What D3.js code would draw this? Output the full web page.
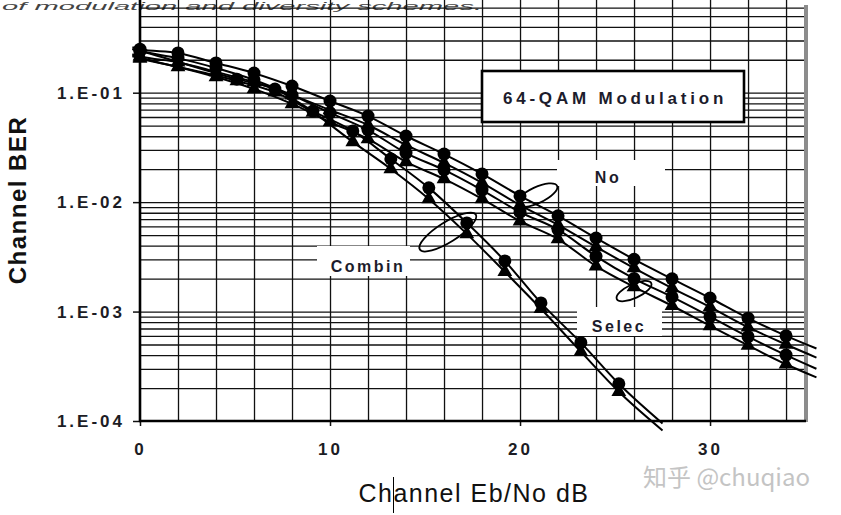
<!DOCTYPE html>
<html>
<head>
<meta charset="utf-8">
<script src="https://cdn.jsdelivr.net/npm/d3@7"></script>
<style>
  body { margin: 0; background: #fff; }
  svg { display: block; font-family: "Liberation Sans", Arial, sans-serif; }
</style>
</head>
<body>
<svg id="chart" width="841" height="515"></svg>
<script>
// Eb/No points (dB) for the "No" and "Selec" curves
const ebno = [0, 2, 4, 6, 8, 10, 12, 14, 16, 18, 20, 22, 24, 26, 28, 30, 32, 34];
const noCircle    = [0.25, 0.231, 0.187, 0.151, 0.115, 0.084, 0.0612, 0.0402, 0.0275, 0.0181, 0.0114, 0.0075, 0.0047, 0.0030, 0.00199, 0.00133, 0.00087, 0.00060];
const noTriangle  = [0.215, 0.190, 0.155, 0.125, 0.095, 0.0695, 0.0507, 0.0333, 0.0228, 0.0150, 0.0094, 0.0062, 0.0039, 0.0025, 0.00164, 0.00110, 0.00072, 0.00050];
const selCircle   = [0.24, 0.207, 0.168, 0.131, 0.095, 0.0653, 0.0456, 0.0281, 0.0197, 0.0129, 0.0081, 0.0056, 0.0032, 0.0020, 0.00136, 0.00090, 0.00059, 0.00040];
const selTriangle = [0.205, 0.172, 0.139, 0.108, 0.079, 0.054, 0.0378, 0.0233, 0.0163, 0.0107, 0.0067, 0.0046, 0.0026, 0.00168, 0.00113, 0.00074, 0.00049, 0.00033];

// "Combin" curves
const combEbno     = [0, 5.1, 7.1, 9.1, 11.2, 13.2, 15.2, 17.2, 19.2, 21.1, 23.2, 25.2];
const combCircle   = [0.24, 0.133, 0.108, 0.068, 0.0447, 0.0248, 0.0135, 0.00646, 0.00290, 0.00120, 0.00052, 0.000219];
const combTriangle = [0.21, 0.128, 0.101, 0.066, 0.0355, 0.0201, 0.0107, 0.00513, 0.00231, 0.00106, 0.00043, 0.000185];

// where the fitted lines start / stop beyond the markers: [BER at start, BER at end]
const lineStartX = -0.4;
const upperEndX = 35.6;
const combEndX = 27.5;
const noCircleEnds     = [0.26, 0.00046];
const noTriangleEnds   = [0.225, 0.00038];
const selCircleEnds    = [0.25, 0.00030];
const selTriangleEnds  = [0.215, 0.00025];
const combCircleEnds   = [0.25, 0.000095];
const combTriangleEnds = [0.22, 0.000082];

const xTickValues = [0, 10, 20, 30];
const yTickValues = [1e-1, 1e-2, 1e-3, 1e-4];
const yTickLabels = ['1.E-01', '1.E-02', '1.E-03', '1.E-04'];

const svg = d3.select('#chart');

const plotLeft = 140, plotRight = 806, plotBottom = 421, plotTop = 0;

const x = d3.scaleLinear().domain([0, 35.05]).range([plotLeft, plotRight]);
const y = d3.scaleLog().domain([1e-4, 1e-1]).range([plotBottom, 92.7]);

// caption line at the very top of the scan (mostly cut off in the source)
svg.append('text')
  .attr('x', 2)
  .attr('y', 10)
  .attr('font-size', 11)
  .attr('font-style', 'italic')
  .attr('textLength', 480)
  .attr('lengthAdjust', 'spacingAndGlyphs')
  .attr('fill', '#444')
  .text('of modulation and diversity schemes.');

// grid: verticals every 2 dB
svg.append('g')
  .attr('transform', `translate(0,${plotBottom})`)
  .call(d3.axisBottom(x).tickValues(d3.range(2, 35, 2)).tickSize(-(plotBottom - plotTop)).tickFormat(''))
  .call(g => g.select('.domain').remove())
  .call(g => g.selectAll('line').attr('stroke', '#111').attr('stroke-width', 1.3));

// grid: log horizontals (1..9 per decade)
const minor = [];
[1e-4, 1e-3, 1e-2, 1e-1].forEach(dec => {
  for (let m = 1; m <= 9; m++) {
    const v = dec * m;
    if (y(v) >= plotTop + 1 && v > 1e-4) minor.push(v);
  }
});
svg.append('g')
  .attr('transform', `translate(${plotLeft},0)`)
  .call(d3.axisLeft(y).tickValues(minor).tickSize(-(plotRight - plotLeft)).tickFormat(''))
  .call(g => g.select('.domain').remove())
  .call(g => g.selectAll('line').attr('stroke', '#111').attr('stroke-width', 1.3));

// white boxes behind the labels (they hide the grid)
const labelBoxes = [
  { x: 557, y: 160, w: 108, h: 26 },
  { x: 577, y: 307, w: 85, h: 29 },
  { x: 317, y: 246, w: 93, h: 30 }
];
svg.append('g').selectAll('rect')
  .data(labelBoxes)
  .enter()
  .append('rect')
  .attr('x', d => d.x)
  .attr('y', d => d.y)
  .attr('width', d => d.w)
  .attr('height', d => d.h)
  .attr('fill', '#fff');

// frame
svg.append('line')
  .attr('x1', plotRight).attr('x2', plotRight).attr('y1', 5).attr('y2', plotBottom + 1)
  .attr('stroke', '#8c8c8c').attr('stroke-width', 4);

// axes
const yAxis = d3.axisLeft(y)
  .tickValues(yTickValues)
  .tickFormat((d, i) => yTickLabels[i])
  .tickSize(7)
  .tickPadding(8);

svg.append('g')
  .attr('transform', `translate(${plotLeft},0)`)
  .call(yAxis)
  .call(g => g.select('.domain').remove())
  .call(g => g.selectAll('line').attr('stroke', '#111').attr('stroke-width', 1.5))
  .call(g => g.selectAll('text')
    .attr('font-size', 17)
    .attr('font-weight', 'bold')
    .attr('letter-spacing', 3)
    .attr('fill', '#1c1c24')
    .attr('font-family', '"Liberation Sans", Arial, sans-serif'));

const xAxis = d3.axisBottom(x)
  .tickValues(xTickValues)
  .tickSize(5)
  .tickPadding(17);

svg.append('g')
  .attr('transform', `translate(0,${plotBottom})`)
  .call(xAxis)
  .call(g => g.select('.domain').remove())
  .call(g => g.selectAll('line').attr('stroke', '#111').attr('stroke-width', 1.5))
  .call(g => g.selectAll('text')
    .attr('font-size', 17)
    .attr('font-weight', 'bold')
    .attr('letter-spacing', 3)
    .attr('fill', '#1c1c24')
    .attr('font-family', '"Liberation Sans", Arial, sans-serif'));

svg.append('line')
  .attr('x1', plotLeft).attr('x2', plotLeft).attr('y1', plotTop).attr('y2', plotBottom + 1)
  .attr('stroke', '#000').attr('stroke-width', 2.6);
svg.append('line')
  .attr('x1', plotLeft - 1).attr('x2', plotRight).attr('y1', plotBottom).attr('y2', plotBottom)
  .attr('stroke', '#000').attr('stroke-width', 2.6);

// series
const series = [
  { xs: ebno, ys: noCircle, ends: noCircleEnds, endX: upperEndX, shape: 'circle' },
  { xs: ebno, ys: noTriangle, ends: noTriangleEnds, endX: upperEndX, shape: 'triangle' },
  { xs: ebno, ys: selCircle, ends: selCircleEnds, endX: upperEndX, shape: 'circle' },
  { xs: ebno, ys: selTriangle, ends: selTriangleEnds, endX: upperEndX, shape: 'triangle' },
  { xs: combEbno, ys: combCircle, ends: combCircleEnds, endX: combEndX, shape: 'circle' },
  { xs: combEbno, ys: combTriangle, ends: combTriangleEnds, endX: combEndX, shape: 'triangle' }
];

const line = d3.line()
  .x(d => x(d[0]))
  .y(d => y(d[1]))
  .curve(d3.curveMonotoneX);

series.forEach(s => {
  const pts = [[lineStartX, s.ends[0]]]
    .concat(s.xs.map((v, i) => [v, s.ys[i]]))
    .concat([[s.endX, s.ends[1]]]);
  svg.append('path')
    .attr('d', line(pts))
    .attr('fill', 'none')
    .attr('stroke', '#000')
    .attr('stroke-width', 2);
});

const tri = d3.symbol().type(d3.symbolTriangle).size(95);

series.forEach(s => {
  const pts = s.xs.map((v, i) => [v, s.ys[i]]);
  if (s.shape === 'circle') {
    svg.append('g').selectAll('circle')
      .data(pts)
      .enter()
      .append('circle')
      .attr('cx', d => x(d[0]))
      .attr('cy', d => y(d[1]))
      .attr('r', 6.5)
      .attr('fill', '#000');
  } else {
    svg.append('g').selectAll('path')
      .data(pts)
      .enter()
      .append('path')
      .attr('d', tri)
      .attr('transform', d => `translate(${x(d[0])},${y(d[1])})`)
      .attr('fill', '#000');
  }
});

// ellipses that group each pair of curves
const rings = [
  { dB: 20.9, ber: 0.0116, rx: 22, ry: 8, rot: -25 },
  { dB: 16.2, ber: 0.00533, rx: 33, ry: 10, rot: -32 },
  { dB: 26.0, ber: 0.00154, rx: 19, ry: 7, rot: -25 }
];
svg.append('g').selectAll('ellipse')
  .data(rings)
  .enter()
  .append('ellipse')
  .attr('transform', d => `translate(${x(d.dB)},${y(d.ber)}) rotate(${d.rot})`)
  .attr('rx', d => d.rx)
  .attr('ry', d => d.ry)
  .attr('fill', 'none')
  .attr('stroke', '#000')
  .attr('stroke-width', 1.8);

// curve labels
const labels = [
  { text: 'No', x: 608, y: 183 },
  { text: 'Selec', x: 619, y: 332 },
  { text: 'Combin', x: 368, y: 272 }
];
svg.append('g').selectAll('text')
  .data(labels)
  .enter()
  .append('text')
  .attr('x', d => d.x)
  .attr('y', d => d.y)
  .attr('text-anchor', 'middle')
  .attr('font-size', 16)
  .attr('font-weight', 'bold')
  .attr('letter-spacing', 2.5)
  .attr('fill', '#1c1c2c')
  .text(d => d.text);

// title box
svg.append('rect')
  .attr('x', 482).attr('y', 71).attr('width', 262).attr('height', 51)
  .attr('fill', '#fff').attr('stroke', '#000').attr('stroke-width', 2.6);
svg.append('text')
  .attr('x', 615).attr('y', 104)
  .attr('text-anchor', 'middle')
  .attr('font-size', 17)
  .attr('font-weight', 'bold')
  .attr('letter-spacing', 3.8)
  .attr('fill', '#1c1c2c')
  .text('64-QAM Modulation');

// axis titles
svg.append('text')
  .attr('transform', 'translate(26,200) rotate(-90)')
  .attr('text-anchor', 'middle')
  .attr('font-size', 24)
  .attr('font-weight', 'bold')
  .attr('letter-spacing', 1.5)
  .attr('fill', '#111')
  .text('Channel BER');

svg.append('text')
  .attr('x', 474).attr('y', 502)
  .attr('text-anchor', 'middle')
  .attr('font-size', 25)
  .attr('letter-spacing', 1.5)
  .attr('fill', '#111')
  .text('Channel Eb/No dB');

// text cursor left in the scan
svg.append('line')
  .attr('x1', 393.5).attr('x2', 393.5).attr('y1', 477).attr('y2', 513)
  .attr('stroke', '#000').attr('stroke-width', 1);

// watermark
svg.append('text')
  .attr('x', 643).attr('y', 486)
  .attr('font-size', 24)
  .attr('fill', '#c4c4c4')
  .attr('font-family', '"Noto Sans CJK SC", "Noto Sans", sans-serif')
  .text('知乎 @chuqiao');
</script>
</body>
</html>
